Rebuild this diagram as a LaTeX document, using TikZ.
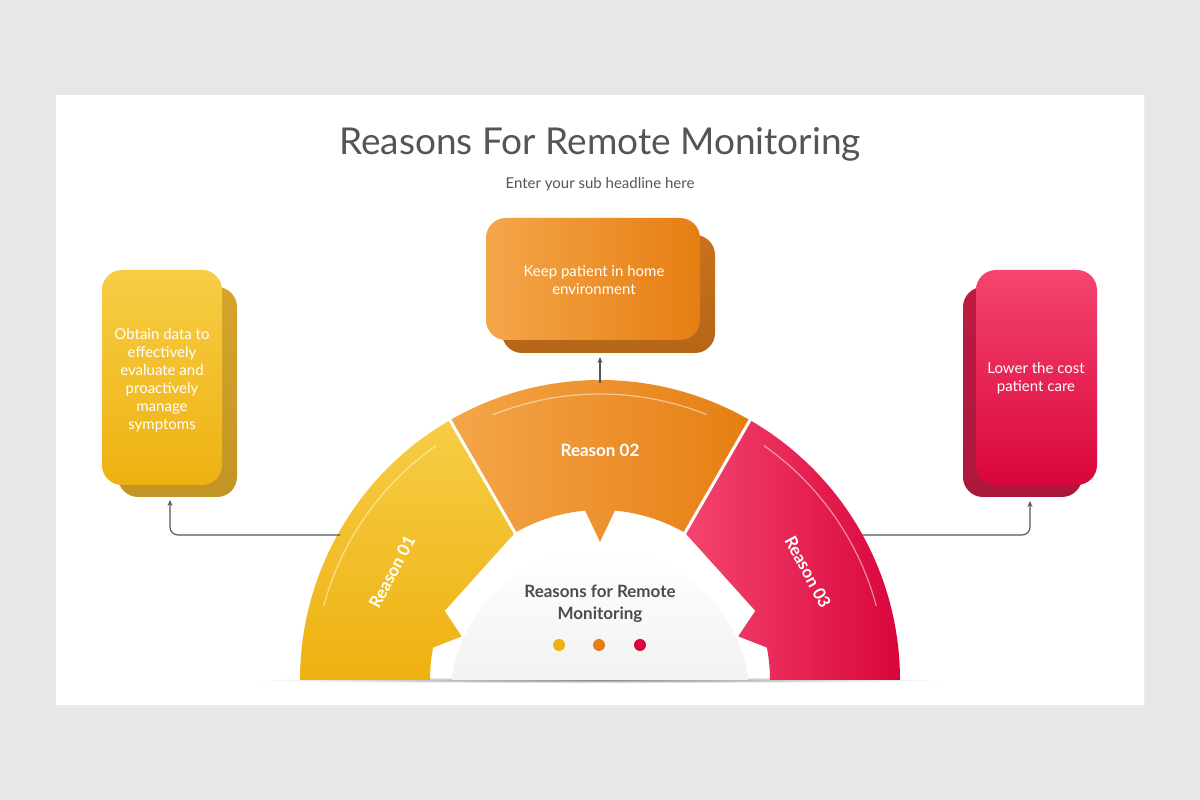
\documentclass[tikz,border=0pt]{standalone}
\usepackage{fontspec}
\setmainfont{Lato}
\usetikzlibrary{arrows.meta,calc}
\definecolor{bg}{HTML}{E8E6E8}
\definecolor{tgray}{HTML}{555555}
\definecolor{yA}{HTML}{F7CD45}\definecolor{yB}{HTML}{EEB111}\definecolor{yD}{HTML}{D6A52A}
\definecolor{oA}{HTML}{F4A64A}\definecolor{oB}{HTML}{E67E12}\definecolor{oD}{HTML}{C9711A}
\definecolor{rA}{HTML}{F4456F}\definecolor{rB}{HTML}{D9063B}\definecolor{rD}{HTML}{BE1A42}
\tikzset{
  lbl/.style={text=white,font=\fontsize{15}{18}\selectfont,align=center},
  seglbl/.style={text=white,font=\bfseries\fontsize{17}{18}\selectfont},
  conn/.style={draw=tgray,line width=1.1pt,rounded corners=8pt,-{Stealth[length=6pt,width=5pt]}}
}
\begin{document}
\begin{tikzpicture}[x=1pt,y=1pt]
\useasboundingbox (0,0) rectangle (1200,800);
\fill[bg] (0,0) rectangle (1200,800);
\fill[black!8] (57,93) rectangle (1146,704);
\fill[white] (56,95) rectangle (1144,705);
\node[text=tgray,font=\fontsize{37}{42}\selectfont] (title) at (600,656) {Reasons For Remote Monitoring};
\node[text=tgray,font=\fontsize{15}{17}\selectfont] (sub) at (600,616) {Enter your sub headline here};
% boxes
\shade[rounded corners=20pt,top color=yD,bottom color=yD!90!black] (118,303) rectangle (237,513);
\shade[rounded corners=20pt,top color=yA,bottom color=yB] (102,315) rectangle (222,530);
\node[lbl] (t1) at (162,420) {Obtain data to\\effectively\\evaluate and\\proactively\\manage\\symptoms};
\shade[rounded corners=20pt,top color=oD,bottom color=oD!90!black] (502,447) rectangle (715,565);
\shade[rounded corners=20pt,left color=oA,right color=oB] (486,460) rectangle (700,582);
\node[lbl] (t2) at (594,520) {Keep patient in home\\environment};
\shade[rounded corners=20pt,top color=rD,bottom color=rD!90!black] (963,303) rectangle (1082,513);
\shade[rounded corners=20pt,top color=rA,bottom color=rB] (976,315) rectangle (1097,530);
\node[lbl] (t3) at (1036,422) {Lower the cost\\patient care};
% base shadow
\shade[inner color=black!45,outer color=white] (600,120) ellipse (345 and 3);
% segments
\coordinate (C) at (600,120);
\shade[top color=yA,bottom color=yB] (300,120) arc (180:120:300) -- ($(C)+(120:170)$) -- ($(C)+(156:170)$) -- ($(C)+(162.5:145)$) -- ($(C)+(169:170)$) arc (169:180:170) -- cycle;
\shade[left color=oA,right color=oB] ($(C)+(120:300)$) arc (120:60:300) -- ($(C)+(60:170)$) arc (60:85:170) -- ($(C)+(90:138)$) -- ($(C)+(95:170)$) arc (95:120:170) -- cycle;
\shade[left color=rA,right color=rB] ($(C)+(60:300)$) arc (60:0:300) -- (770,120) arc (0:11:170) -- ($(C)+(17.5:145)$) -- ($(C)+(24:170)$) -- ($(C)+(60:170)$) -- cycle;
\draw[white,line width=3pt] ($(C)+(120:168)$) -- ($(C)+(120:301)$) ($(C)+(60:168)$) -- ($(C)+(60:301)$);
\draw[white,opacity=0.5,line width=1.2pt] ($(C)+(165:286)$) arc (165:125:286);
\draw[white,opacity=0.5,line width=1.2pt] ($(C)+(112:286)$) arc (112:68:286);
\draw[white,opacity=0.5,line width=1.2pt] ($(C)+(55:286)$) arc (55:15:286);
% inner disk
\begin{scope}
\clip (300,120) rectangle (900,400);
\shade[top color=white,bottom color=black!12] (600,100) circle (150);
\end{scope}
\node[seglbl] (r2) at (600,350) {Reason 02};
\node[seglbl,rotate=62] (r1) at (392,228) {Reason 01};
\node[seglbl,rotate=-62] (r3) at (808,228) {Reason 03};
\node[text=black!70,font=\bfseries\fontsize{17}{22}\selectfont,align=center] (ct) at (600,196) {Reasons for Remote\\Monitoring};
\fill[yB] (559,155) circle (6);\fill[oB] (599,155) circle (6);\fill[rB] (640,155) circle (6);
% connectors
\coordinate (a1) at (340,265);\coordinate (a1c) at (170,265);\coordinate (a1e) at (170,300);
\coordinate (a2) at (600,417);\coordinate (a2e) at (600,443);
\coordinate (a3) at (862,265);\coordinate (a3c) at (1030,265);\coordinate (a3e) at (1030,299);
\draw[conn] (a1) -- (a1c) -- (a1e);
\draw[conn] (a2) -- (a2e);
\draw[conn] (a3) -- (a3c) -- (a3e);
\end{tikzpicture}
\end{document}
